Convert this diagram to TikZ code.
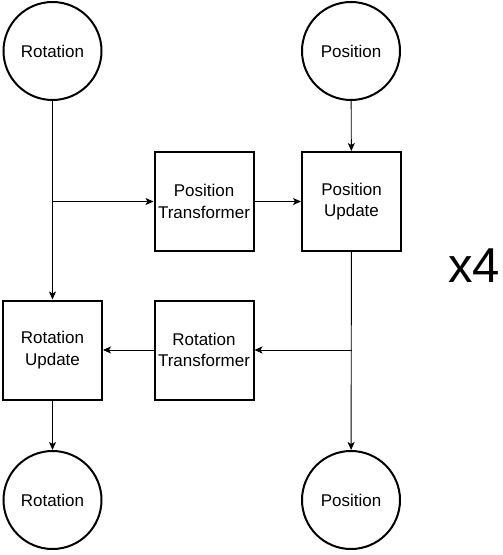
\documentclass[tikz,border=0pt]{standalone}
\usepackage{fontspec}
\setmainfont{Liberation Sans}
\usetikzlibrary{arrows.meta}
\begin{document}
\begin{tikzpicture}[x=1bp,y=-1bp,
  lbl/.style={font=\fontsize{17bp}{21.5bp}\selectfont, align=center},
  circ/.style={lbl, draw, circle, line width=2bp, minimum size=98bp, inner sep=0pt},
  box/.style={lbl, draw, rectangle, line width=2bp, minimum width=99bp, minimum height=99bp, inner sep=0pt},
  conn/.style={line width=0.9bp, -{Stealth[length=8bp,width=7bp,inset=2bp]}}]
\useasboundingbox (0,0) rectangle (503,555);
\node[circ] (rotTop) at (52.5,51) {Rotation};
\node[circ] (posTop) at (351,51) {Position};
\node[box] (posTr) at (204,201.5) {Position\\Transformer};
\node[box] (posUpd) at (351.5,201.5) {Position\\Update};
\node[box] (rotUpd) at (52.5,350) {Rotation\\Update};
\node[box] (rotTr) at (204,350) {Rotation\\Transformer};
\node[circ] (rotBot) at (52.5,500) {Rotation};
\node[circ] (posBot) at (351,500) {Position};
\node[font=\fontsize{49bp}{55bp}\selectfont, anchor=center] (rep) at (474,266) {x4};
\coordinate (b1) at (rotTop |- posTr);
\coordinate (b2) at (posUpd |- rotTr);
\draw[conn] (rotTop) -- (rotUpd);
\draw[conn] (b1) -- (posTr);
\draw[conn] (posTr) -- (posUpd);
\draw[conn] (posTop) -- (posUpd);
\draw[conn] (posUpd) -- (posBot);
\draw[conn] (b2) -- (rotTr);
\draw[conn] (rotTr) -- (rotUpd);
\draw[conn] (rotUpd) -- (rotBot);
\end{tikzpicture}
\end{document}
